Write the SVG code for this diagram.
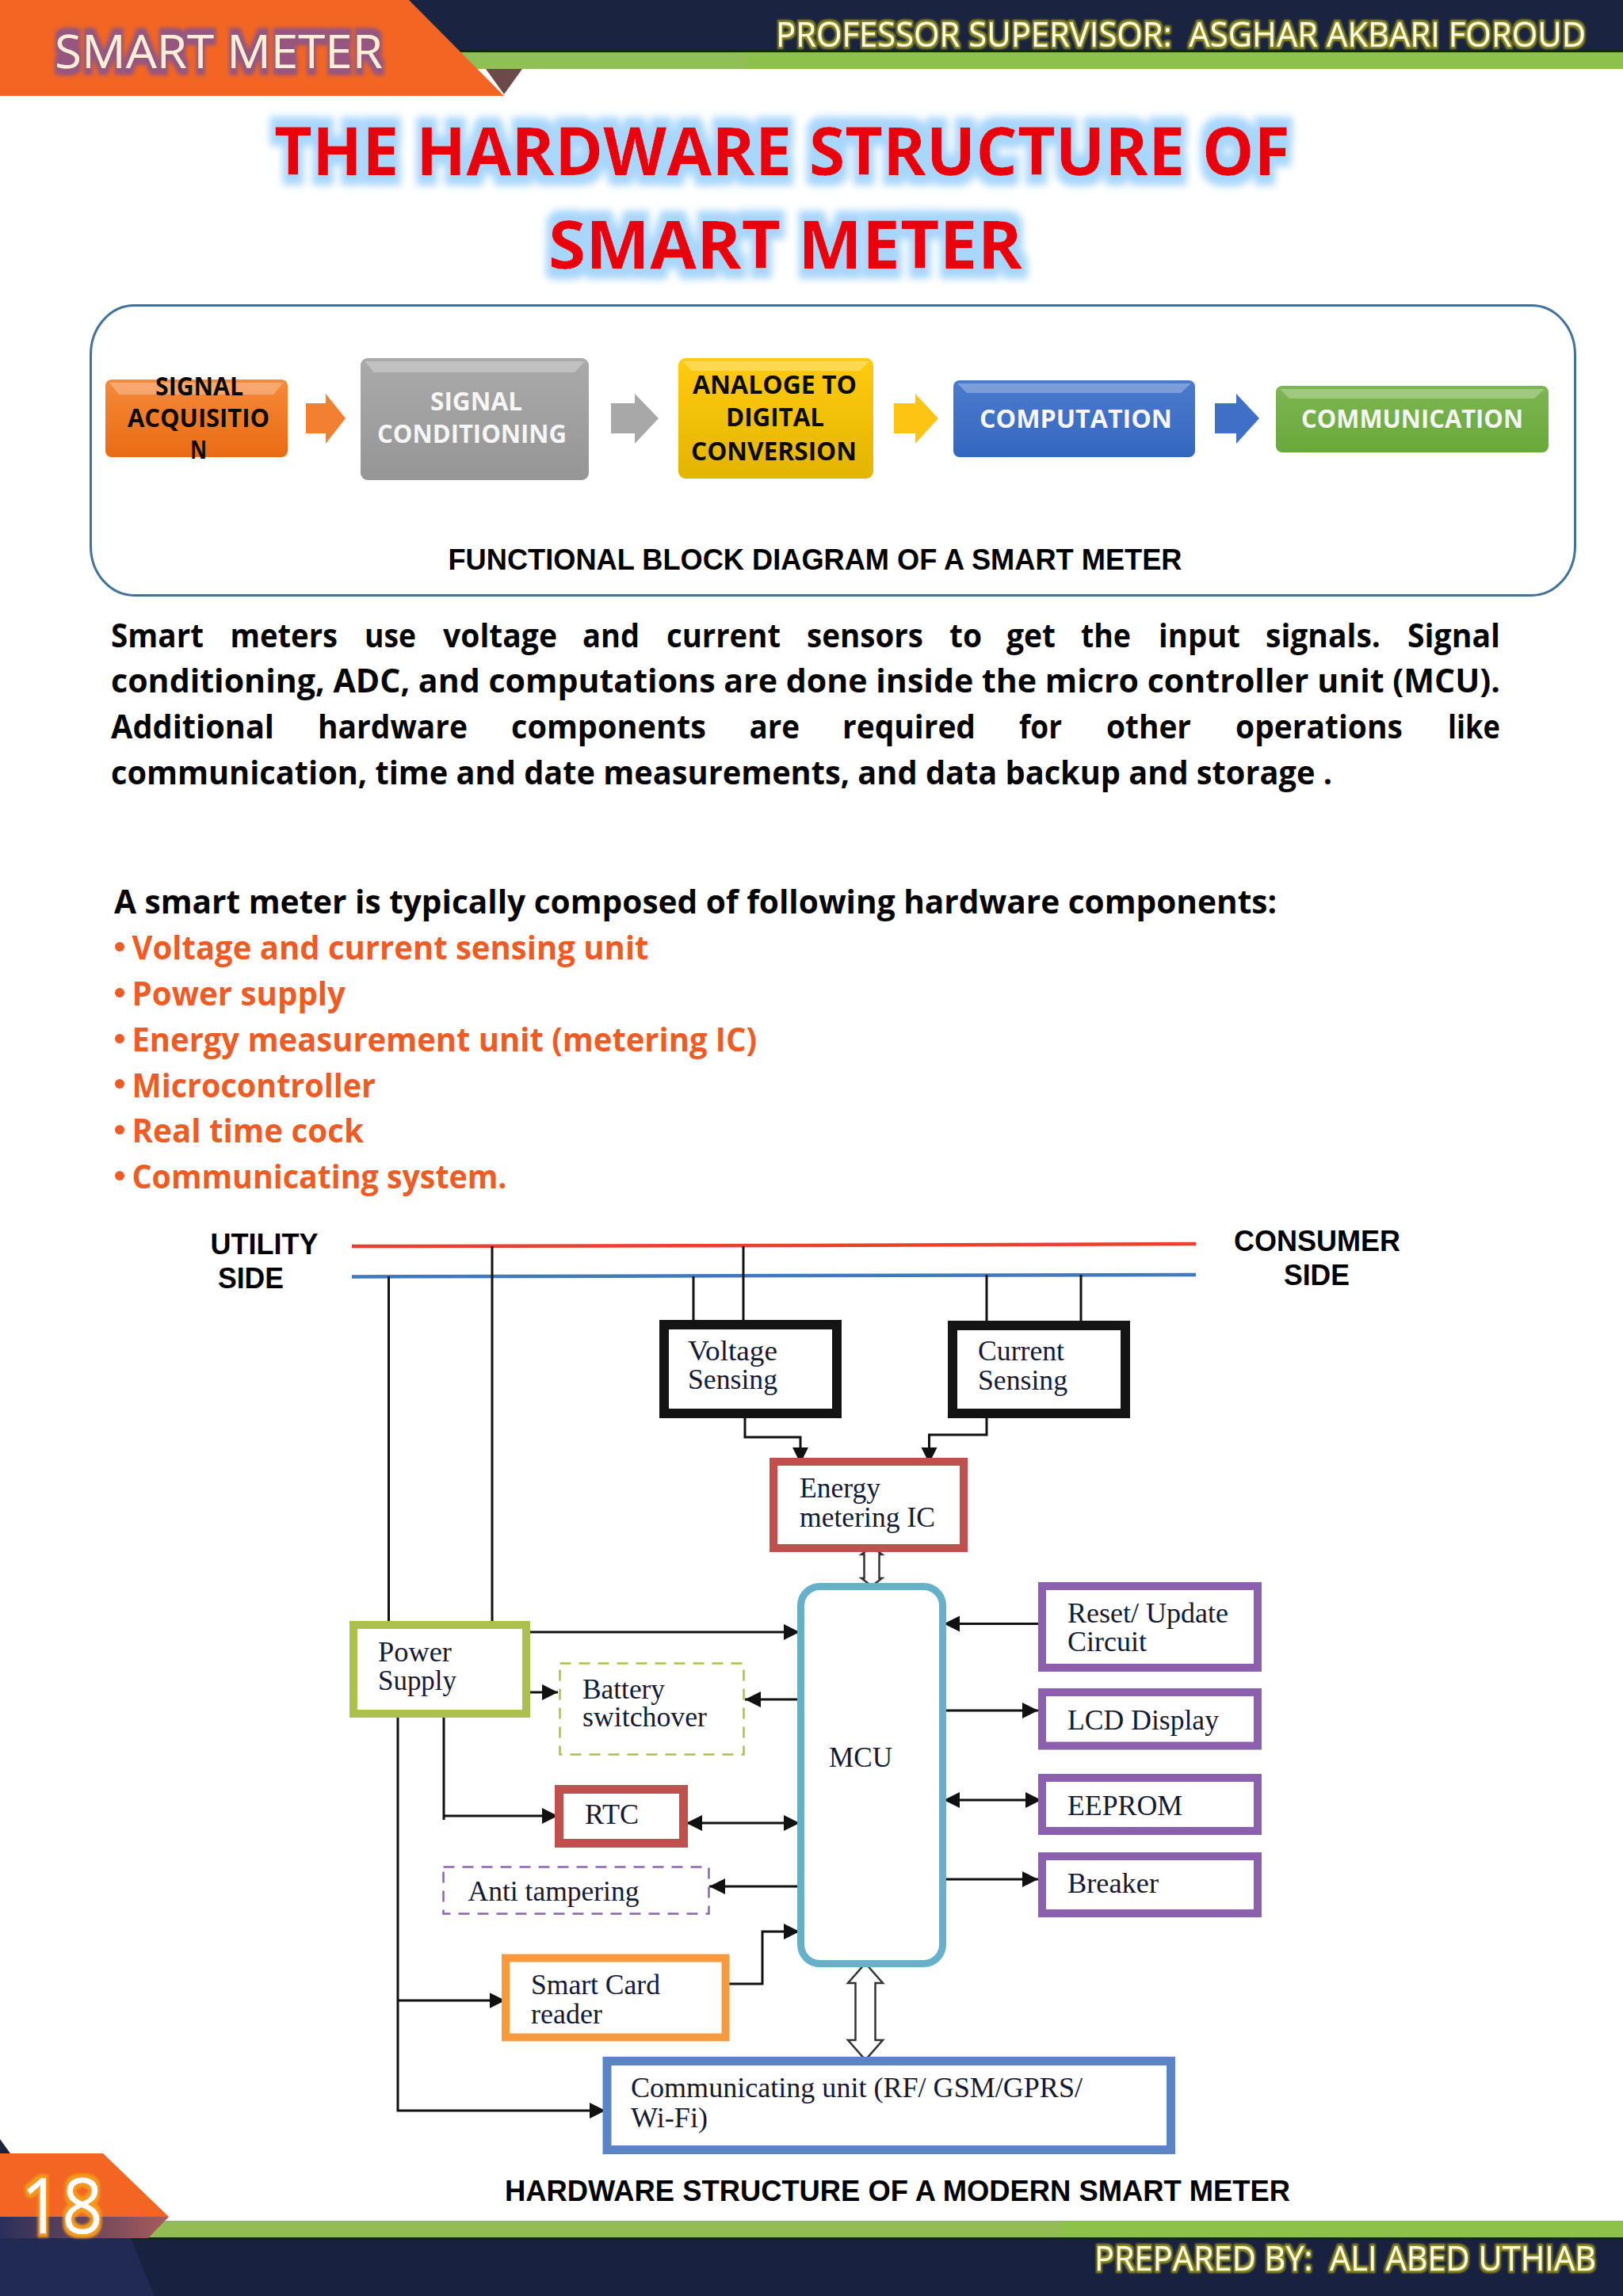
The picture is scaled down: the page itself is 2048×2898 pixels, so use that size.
<svg xmlns="http://www.w3.org/2000/svg" width="2048" height="2898" viewBox="0 0 2048 2898">
<style>
text{font-family:"Open Sans","Noto Sans",sans-serif}
.body{font-size:41px;font-weight:700;fill:#050505}
.item{font-size:41px;font-weight:700;fill:#ee5c25}
.blk{font-size:32px;font-weight:700;text-anchor:start}
.dk{fill:#0a0a0a}.lt{fill:#f6f6f6}
.cap{font-family:"Liberation Sans",Arial,sans-serif;font-weight:700;font-size:36px;fill:#000}
.lab{font-family:"Liberation Serif","Times New Roman",serif;font-size:35px;fill:#141a33}
.box{fill:#fff}
.line{fill:none;stroke:#111;stroke-width:3}
.end{marker-end:url(#ah)}
.both{marker-end:url(#ah);marker-start:url(#ah)}
.dbl{fill:#fff;stroke:#333;stroke-width:2.5}
.shine{fill:#fff;opacity:.28}
</style>
<defs>
<marker id="ah" markerUnits="userSpaceOnUse" markerWidth="22" markerHeight="22" refX="20" refY="10" orient="auto-start-reverse"><path d="M0,0L20,10L0,20z" fill="#111"/></marker>
<linearGradient id="gO" x1="0" y1="0" x2="0" y2="1"><stop offset="0" stop-color="#f58a3c"/><stop offset=".5" stop-color="#f07a25"/><stop offset="1" stop-color="#e96c14"/></linearGradient>
<linearGradient id="gG" x1="0" y1="0" x2="0" y2="1"><stop offset="0" stop-color="#aaa"/><stop offset="1" stop-color="#969696"/></linearGradient>
<linearGradient id="gY" x1="0" y1="0" x2="0" y2="1"><stop offset="0" stop-color="#ffcb10"/><stop offset="1" stop-color="#e3b500"/></linearGradient>
<linearGradient id="gB" x1="0" y1="0" x2="0" y2="1"><stop offset="0" stop-color="#4c7bcd"/><stop offset="1" stop-color="#3367bf"/></linearGradient>
<linearGradient id="gL" x1="0" y1="0" x2="0" y2="1"><stop offset="0" stop-color="#7db552"/><stop offset="1" stop-color="#69a93b"/></linearGradient>
<linearGradient id="gM" x1="0" y1="0" x2="1" y2="0"><stop offset="0" stop-color="#2a2f5c"/><stop offset="1" stop-color="#a85c5a"/></linearGradient>
<filter id="glowT" x="-10%" y="-40%" width="120%" height="180%"><feMorphology in="SourceAlpha" operator="dilate" radius="7 13" result="d"/><feGaussianBlur in="d" stdDeviation="5" result="b"/><feFlood flood-color="#a8d6fc"/><feComposite in2="b" operator="in" result="c"/><feMerge><feMergeNode in="c"/><feMergeNode in="SourceGraphic"/></feMerge></filter>
<filter id="glowH" x="-10%" y="-40%" width="120%" height="180%"><feMorphology in="SourceAlpha" operator="dilate" radius="3 9" result="d"/><feGaussianBlur in="d" stdDeviation="2" result="b"/><feFlood flood-color="#96567f"/><feComposite in2="b" operator="in" result="c"/><feMerge><feMergeNode in="c"/><feMergeNode in="SourceGraphic"/></feMerge></filter>
<filter id="glowY" x="-5%" y="-30%" width="110%" height="160%"><feMorphology in="SourceAlpha" operator="dilate" radius="1.5 2.5" result="d"/><feGaussianBlur in="d" stdDeviation="1" result="b"/><feFlood flood-color="#8d8d1e"/><feComposite in2="b" operator="in" result="c"/><feMerge><feMergeNode in="c"/><feMergeNode in="SourceGraphic"/></feMerge></filter>
<filter id="glowN" x="-30%" y="-30%" width="160%" height="160%"><feMorphology in="SourceAlpha" operator="dilate" radius="3 5" result="d"/><feGaussianBlur in="d" stdDeviation="1.5" result="b"/><feFlood flood-color="#f59a1c"/><feComposite in2="b" operator="in" result="c"/><feMerge><feMergeNode in="c"/><feMergeNode in="SourceGraphic"/></feMerge></filter>
</defs>
<rect width="2048" height="2898" fill="#fff"/>

<g id="header">
<rect width="2048" height="65" fill="#1a2340"/>
<rect y="63" width="2048" height="3" fill="#0c2a10"/>
<rect x="560" y="66" width="1488" height="21" fill="#8cc24a"/>
<rect x="560" y="66" width="380" height="21" fill="#8fbf55"/>
<polygon points="613,87 659,87 636,119" fill="#6d4a4a"/>
<polygon points="0,0 516,0 636,121 0,121" fill="#f26522"/>
<text x="69" y="86" font-size="59" fill="#fdeed8" filter="url(#glowH)" textLength="414" lengthAdjust="spacingAndGlyphs">SMART METER</text>
<text x="979" y="59" font-size="43" fill="#fff9dc" filter="url(#glowY)" textLength="1022" lengthAdjust="spacingAndGlyphs" xml:space="preserve">PROFESSOR SUPERVISOR:  ASGHAR AKBARI FOROUD</text>
</g>

<g id="title" font-size="85" font-weight="700" fill="#e8000f">
<text x="346" y="221" filter="url(#glowT)" textLength="1282" lengthAdjust="spacingAndGlyphs">THE HARDWARE STRUCTURE OF</text>
<text x="692" y="339" filter="url(#glowT)" textLength="598" lengthAdjust="spacingAndGlyphs">SMART METER</text>
</g>

<g id="functional-panel">
<rect x="114.500" y="385.500" width="1873" height="366" rx="55" ry="62" fill="#fff" stroke="#41719c" stroke-width="3"/>
<text class="cap" x="565.500" y="719" textLength="926" lengthAdjust="spacingAndGlyphs">FUNCTIONAL BLOCK DIAGRAM OF A SMART METER</text>
</g>

<g id="block-signal-acquisition">
<rect x="133" y="479" width="230" height="98" rx="8" fill="url(#gO)"/>
<polygon class="shine" points="138,483 358,483 345,498 150,498"/>
<text class="blk dk" x="196" y="499" textLength="111" lengthAdjust="spacingAndGlyphs">SIGNAL</text>
<text class="blk dk" x="161" y="539" textLength="179" lengthAdjust="spacingAndGlyphs">ACQUISITIO</text>
<text class="blk dk" x="240" y="579" textLength="21" lengthAdjust="spacingAndGlyphs">N</text>
</g>
<g id="block-signal-conditioning">
<rect x="455" y="452" width="288" height="154" rx="9" fill="url(#gG)"/>
<polygon class="shine" points="460,456 738,456 725,470 472,470"/>
<text class="blk lt" x="543" y="518" textLength="116" lengthAdjust="spacingAndGlyphs">SIGNAL</text>
<text class="blk lt" x="476" y="559" textLength="239" lengthAdjust="spacingAndGlyphs">CONDITIONING</text>
</g>
<g id="block-adc">
<rect x="856" y="452" width="246" height="152" rx="9" fill="url(#gY)"/>
<polygon class="shine" points="861,456 1097,456 1085,468 873,468"/>
<text class="blk dk" x="874" y="497" textLength="207" lengthAdjust="spacingAndGlyphs">ANALOGE TO</text>
<text class="blk dk" x="916" y="538" textLength="124" lengthAdjust="spacingAndGlyphs">DIGITAL</text>
<text class="blk dk" x="872" y="581" textLength="209" lengthAdjust="spacingAndGlyphs">CONVERSION</text>
</g>
<g id="block-computation">
<rect x="1203" y="480" width="305" height="97" rx="8" fill="url(#gB)"/>
<polygon class="shine" points="1208,484 1503,484 1490,496 1220,496"/>
<text class="blk lt" x="1236" y="540" textLength="243" lengthAdjust="spacingAndGlyphs">COMPUTATION</text>
</g>
<g id="block-communication">
<rect x="1610" y="487" width="344" height="84" rx="8" fill="url(#gL)"/>
<polygon class="shine" points="1615,491 1949,491 1936,503 1627,503"/>
<text class="blk lt" x="1642" y="540" textLength="280" lengthAdjust="spacingAndGlyphs">COMMUNICATION</text>
</g>
<g id="block-arrows">
<polygon points="386,509 411,509 411,497 436,528 411,560 411,547 386,547" fill="#f28030"/>
<polygon points="771,509 801,509 801,497 831,528 801,560 801,547 771,547" fill="#a8a8a8"/>
<polygon points="1128,509 1155,509 1155,497 1184,528 1155,560 1155,547 1128,547" fill="#fdc413"/>
<polygon points="1533,509 1560,509 1560,497 1589,528 1560,560 1560,547 1533,547" fill="#3f70c8"/>
</g>

<g id="paragraph" class="body">
<text y="817"><tspan x="140" textLength="117" lengthAdjust="spacingAndGlyphs">Smart</tspan> <tspan x="290.500" textLength="135.500" lengthAdjust="spacingAndGlyphs">meters</tspan> <tspan x="460" textLength="65" lengthAdjust="spacingAndGlyphs">use</tspan> <tspan x="559" textLength="144" lengthAdjust="spacingAndGlyphs">voltage</tspan> <tspan x="735" textLength="72" lengthAdjust="spacingAndGlyphs">and</tspan> <tspan x="841" textLength="144" lengthAdjust="spacingAndGlyphs">current</tspan> <tspan x="1018" textLength="147" lengthAdjust="spacingAndGlyphs">sensors</tspan> <tspan x="1198" textLength="41" lengthAdjust="spacingAndGlyphs">to</tspan> <tspan x="1270" textLength="62" lengthAdjust="spacingAndGlyphs">get</tspan> <tspan x="1364" textLength="63" lengthAdjust="spacingAndGlyphs">the</tspan> <tspan x="1462" textLength="103" lengthAdjust="spacingAndGlyphs">input</tspan> <tspan x="1597" textLength="145" lengthAdjust="spacingAndGlyphs">signals.</tspan> <tspan x="1776" textLength="117" lengthAdjust="spacingAndGlyphs">Signal</tspan></text>
<text x="140" y="874" textLength="1753" lengthAdjust="spacingAndGlyphs">conditioning, ADC, and computations are done inside the micro controller unit (MCU).</text>
<text y="932"><tspan x="140" textLength="206" lengthAdjust="spacingAndGlyphs">Additional</tspan> <tspan x="401" textLength="189" lengthAdjust="spacingAndGlyphs">hardware</tspan> <tspan x="645" textLength="246" lengthAdjust="spacingAndGlyphs">components</tspan> <tspan x="945.500" textLength="63.500" lengthAdjust="spacingAndGlyphs">are</tspan> <tspan x="1063" textLength="168" lengthAdjust="spacingAndGlyphs">required</tspan> <tspan x="1286" textLength="54" lengthAdjust="spacingAndGlyphs">for</tspan> <tspan x="1396" textLength="107" lengthAdjust="spacingAndGlyphs">other</tspan> <tspan x="1559" textLength="211" lengthAdjust="spacingAndGlyphs">operations</tspan> <tspan x="1827" textLength="66" lengthAdjust="spacingAndGlyphs">like</tspan></text>
<text x="140" y="990" textLength="1541" lengthAdjust="spacingAndGlyphs">communication, time and date measurements, and data backup and storage .</text>
<text x="144" y="1153" textLength="1467" lengthAdjust="spacingAndGlyphs">A smart meter is typically composed of following hardware components:</text>
</g>

<g id="bullets" class="item">
<g fill="#ee5c25"><circle cx="151" cy="1195" r="6"/><circle cx="151" cy="1253" r="6"/><circle cx="151" cy="1311" r="6"/><circle cx="151" cy="1368" r="6"/><circle cx="151" cy="1426" r="6"/><circle cx="151" cy="1484" r="6"/></g>
<text x="166.500" y="1211" textLength="652" lengthAdjust="spacingAndGlyphs">Voltage and current sensing unit</text>
<text x="166.500" y="1269" textLength="269.500" lengthAdjust="spacingAndGlyphs">Power supply</text>
<text x="166.500" y="1327" textLength="788.500" lengthAdjust="spacingAndGlyphs">Energy measurement unit (metering IC)</text>
<text x="166.500" y="1385" textLength="307.500" lengthAdjust="spacingAndGlyphs">Microcontroller</text>
<text x="166.500" y="1442" textLength="292.500" lengthAdjust="spacingAndGlyphs">Real time cock</text>
<text x="166.500" y="1500" textLength="473" lengthAdjust="spacingAndGlyphs">Communicating system.</text>
</g>

<g id="side-labels">
<text class="cap" x="265.500" y="1583" textLength="136" lengthAdjust="spacingAndGlyphs">UTILITY</text>
<text class="cap" x="275" y="1626" textLength="83" lengthAdjust="spacingAndGlyphs">SIDE</text>
<text class="cap" x="1557" y="1579" textLength="210" lengthAdjust="spacingAndGlyphs">CONSUMER</text>
<text class="cap" x="1620" y="1622" textLength="83" lengthAdjust="spacingAndGlyphs">SIDE</text>
</g>

<g id="bus-lines" fill="none" stroke-width="4.500">
<path d="M444,1573L1000,1572L1509,1570" stroke="#e8412f"/>
<path d="M444,1611.500L1000,1610L1509,1609" stroke="#4279bd"/>
</g>

<g id="connectors">
<path class="line" d="M490.500,1611V2050M621,1573V2050M875,1611V1666M938,1573V1666M1245,1609V1667M1364,1609V1667"/>
<path class="line end" d="M940,1790V1814H1010V1847"/>
<path class="line end" d="M1245,1790V1811H1172.500V1847"/>
<path class="line end" d="M661,2060H1009"/>
<path class="line end" d="M661,2136H704"/>
<path class="line end" d="M1011,2145H940"/>
<path class="line" d="M560,2157V2297"/>
<path class="line end" d="M560,2292H704"/>
<path class="line both" d="M866,2301H1009"/>
<path class="line end" d="M1011,2381H895"/>
<path class="line end" d="M913,2504H962V2438H1009"/>
<path class="line end" d="M502,2158V2664H764"/>
<path class="line end" d="M502,2525H637.500"/>
<path class="line end" d="M1316,2049.500H1191"/>
<path class="line end" d="M1189,2159H1310"/>
<path class="line both" d="M1191,2272H1314"/>
<path class="line end" d="M1189,2372H1310"/>
<polygon class="dbl" points="1100,1952 1113,1962 1109.500,1962 1109.500,1992 1113,1992 1100,2002 1087,1992 1090.500,1992 1090.500,1962 1087,1962"/>
<polygon class="dbl" points="1092,2478 1114,2503 1104.500,2503 1104.500,2575 1114,2575 1092,2600 1070,2575 1079.500,2575 1079.500,2503 1070,2503"/>
</g>

<g id="node-voltage"><rect class="box" x="838" y="1672" width="218" height="112" stroke="#141414" stroke-width="12"/><text class="lab" x="868" y="1717" textLength="113" lengthAdjust="spacingAndGlyphs">Voltage</text><text class="lab" x="868" y="1753" textLength="113" lengthAdjust="spacingAndGlyphs">Sensing</text></g>
<g id="node-current"><rect class="box" x="1202" y="1673" width="218" height="111" stroke="#141414" stroke-width="12"/><text class="lab" x="1234" y="1717" textLength="109" lengthAdjust="spacingAndGlyphs">Current</text><text class="lab" x="1234" y="1754" textLength="113" lengthAdjust="spacingAndGlyphs">Sensing</text></g>
<g id="node-energy"><rect class="box" x="976" y="1845" width="240" height="109" stroke="#c0504d" stroke-width="10"/><text class="lab" x="1009" y="1890" textLength="102" lengthAdjust="spacingAndGlyphs">Energy</text><text class="lab" x="1009" y="1927" textLength="171" lengthAdjust="spacingAndGlyphs">metering IC</text></g>
<g id="node-mcu"><rect x="1010.500" y="2002.500" width="179" height="476" rx="24" fill="none" stroke="#66b0c9" stroke-width="9"/><text class="lab" x="1046" y="2230" textLength="80" lengthAdjust="spacingAndGlyphs">MCU</text></g>
<g id="node-power"><rect class="box" x="446" y="2051" width="218" height="112" stroke="#acc04f" stroke-width="10"/><text class="lab" x="477" y="2097" textLength="93" lengthAdjust="spacingAndGlyphs">Power</text><text class="lab" x="477" y="2133" textLength="99" lengthAdjust="spacingAndGlyphs">Supply</text></g>
<g id="node-battery"><rect class="box" x="706.500" y="2099.500" width="232" height="115" stroke="#a9bf50" stroke-width="2.500" stroke-dasharray="14 10"/><text class="lab" x="735" y="2143.500" textLength="104" lengthAdjust="spacingAndGlyphs">Battery</text><text class="lab" x="735" y="2179" textLength="157" lengthAdjust="spacingAndGlyphs">switchover</text></g>
<g id="node-rtc"><rect class="box" x="705.500" y="2258.500" width="157" height="68" stroke="#c0504d" stroke-width="11"/><text class="lab" x="738" y="2302" textLength="68" lengthAdjust="spacingAndGlyphs">RTC</text></g>
<g id="node-anti"><rect class="box" x="559.500" y="2356.500" width="335" height="59" stroke="#8f62b4" stroke-width="2.500" stroke-dasharray="14 10"/><text class="lab" x="590.500" y="2398.500" textLength="216" lengthAdjust="spacingAndGlyphs">Anti tampering</text></g>
<g id="node-smartcard"><rect class="box" x="638" y="2471.500" width="277.500" height="100" stroke="#f79a3e" stroke-width="10"/><text class="lab" x="670" y="2517" textLength="163" lengthAdjust="spacingAndGlyphs">Smart Card</text><text class="lab" x="670" y="2553.500" textLength="90" lengthAdjust="spacingAndGlyphs">reader</text></g>
<g id="node-comm"><rect class="box" x="766" y="2601.500" width="711.500" height="112" stroke="#5b85c2" stroke-width="11"/><text class="lab" x="796" y="2647" textLength="570" lengthAdjust="spacingAndGlyphs">Communicating unit (RF/ GSM/GPRS/</text><text class="lab" x="796" y="2685" textLength="97" lengthAdjust="spacingAndGlyphs">Wi-Fi)</text></g>
<g id="node-reset"><rect class="box" x="1315" y="2002" width="272" height="103" stroke="#8c60ae" stroke-width="10"/><text class="lab" x="1347" y="2048" textLength="203" lengthAdjust="spacingAndGlyphs">Reset/ Update</text><text class="lab" x="1347" y="2084" textLength="100" lengthAdjust="spacingAndGlyphs">Circuit</text></g>
<g id="node-lcd"><rect class="box" x="1315" y="2136" width="272" height="67.500" stroke="#8c60ae" stroke-width="10"/><text class="lab" x="1347" y="2183" textLength="191" lengthAdjust="spacingAndGlyphs">LCD Display</text></g>
<g id="node-eeprom"><rect class="box" x="1315" y="2244" width="272" height="67" stroke="#8c60ae" stroke-width="10"/><text class="lab" x="1347" y="2290.500" textLength="145" lengthAdjust="spacingAndGlyphs">EEPROM</text></g>
<g id="node-breaker"><rect class="box" x="1315" y="2343" width="272" height="72" stroke="#8c60ae" stroke-width="10"/><text class="lab" x="1347" y="2389" textLength="115" lengthAdjust="spacingAndGlyphs">Breaker</text></g>

<text id="caption" class="cap" x="637" y="2778" textLength="991" lengthAdjust="spacingAndGlyphs">HARDWARE STRUCTURE OF A MODERN SMART METER</text>

<g id="footer">
<rect y="2803" width="2048" height="22" fill="#8cc24a"/>
<rect x="0" y="2803" width="1340" height="22" fill="#93bd52"/>
<rect y="2825" width="2048" height="73" fill="#192140"/>
<rect y="2824" width="2048" height="3" fill="#0c2a10"/>
<polygon points="0,2825 165,2825 195,2898 0,2898" fill="#212a52"/>
<polygon points="0,2700 13,2718 0,2718" fill="#1a2340"/>
<polygon points="0,2718 130,2718 213,2798 0,2798" fill="#f26522"/>
<polygon points="0,2798 213,2798 187,2825 0,2825" fill="url(#gM)"/>
<text x="26" y="2819" font-size="97" fill="#fff" filter="url(#glowN)" textLength="104" lengthAdjust="spacingAndGlyphs">18</text>
<text x="1381" y="2866" font-size="43" fill="#fff9dc" filter="url(#glowY)" textLength="633" lengthAdjust="spacingAndGlyphs" xml:space="preserve">PREPARED BY:  ALI ABED UTHIAB</text>
</g>
</svg>
